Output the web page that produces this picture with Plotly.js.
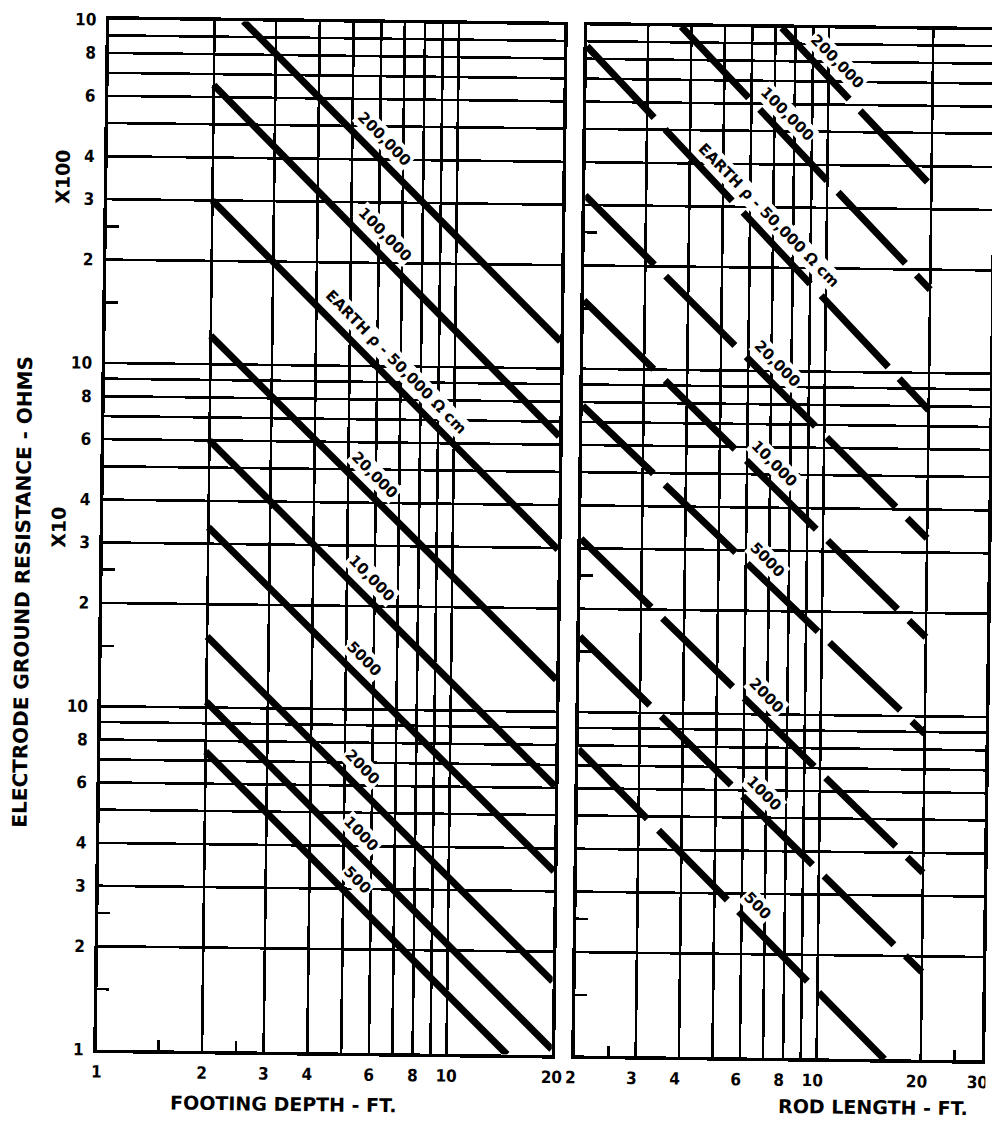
<!DOCTYPE html>
<html>
<head>
<meta charset="utf-8">
<script src="https://cdn.plot.ly/plotly-3.0.1.min.js"></script>
<style>
html,body{margin:0;padding:0;background:#fff;overflow:hidden;}
#chart{width:992px;height:1125px;transform:rotate(0.7deg);transform-origin:545px 540px;}
</style>
</head>
<body>
<div id="chart"></div>
<script>
// ---------------- data ----------------
const curveLabels = ['200,000', '100,000', 'EARTH \u03c1 - 50,000 \u03a9 cm', '20,000', '10,000', '5000', '2000', '1000', '500'];

// Footing depth panel (solid lines): start / end points of each curve
const footStartX = [2.42, 2, 2, 2, 2, 2, 2, 2, 2];
const footStartR = [1000, 650, 300, 121, 60, 33.5, 16.1, 10.4, 7.45];
const footEndX   = [20, 20, 20, 20, 20, 20, 20, 20, 14.9];
const footEndR   = [120, 63.5, 29.7, 12.4, 6.07, 3.43, 1.64, 1.04, 1];

// Rod length panel (dashed lines)
const rodStartX = [7.3, 3.74, 2, 2, 2, 2, 2, 2, 2];
const rodStartR = [1000, 1000, 870, 320, 158, 78, 32, 16.6, 7.8];
const rodEndX   = [20, 20, 20, 20, 20, 20, 20, 20, 15.7];
const rodEndR   = [350, 175, 78, 33, 17, 8.9, 3.5, 1.8, 1];

// Tick values / labels
const resTickVals = [1,2,3,4,5,6,7,8,9,10,20,30,40,50,60,70,80,90,100,200,300,400,500,600,700,800,900,1000];
const resTickText = ['1','2','3','4','','6','','8','','10','2','3','4','','6','','8','','10','2','3','4','','6','','8','','10'];
const resShortTicks = [1.5, 2.5, 15, 25, 150, 250];

const footTickVals = [1,2,3,4,5,6,7,8,9,10,20];
const footTickText = ['1','2','3','4','','6','','8','','10','20'];
const footShortTicks = [1.5, 2.5];

const rodTickVals = [2,3,4,5,6,7,8,9,10,20,30];
const rodTickText = ['2','3','4','','6','','8','','10','20','30'];
const rodShortTicks = [2.5, 25];

const scaleLabels = ['X100', 'X10'];
const scaleLabelAt = [347, 33];

// ---------------- positions / styles ----------------
const W = 992, H = 1125;
const plotTop = 25, plotBottom = 1055;
const leftX0 = 103, leftX1 = 558, rightX0 = 581, rightX1 = 988;
const footLabelX = [5.70, 5.75, 6.28, 5.49, 5.42, 5.21, 5.18, 5.18, 5.06];
const rodLabelX  = [9.77, 7.03, 6.29, 6.72, 6.64, 6.39, 6.42, 6.38, 6.14];

const FONT_C = "'DejaVu Sans Condensed', 'DejaVu Sans', sans-serif";
const FONT_W = "'DejaVu Sans', sans-serif";
const INK = '#000';

const traces = [];
curveLabels.forEach((name, i) => {
  traces.push({
    x: [footStartX[i], footEndX[i]], y: [footStartR[i], footEndR[i]],
    xaxis: 'x', yaxis: 'y', mode: 'lines', name: name, showlegend: false,
    line: {color: INK, width: 7}, hoverinfo: 'skip'
  });
  traces.push({
    x: [rodStartX[i], rodEndX[i]], y: [rodStartR[i], rodEndR[i]],
    xaxis: 'x2', yaxis: 'y2', mode: 'lines', name: name, showlegend: false,
    line: {color: INK, width: 7, dash: '98px,16px'}, hoverinfo: 'skip'
  });
});

function logInterp(x0, r0, x1, r1, x) {
  const t = (Math.log10(x) - Math.log10(x0)) / (Math.log10(x1) - Math.log10(x0));
  return Math.log10(r0) + t * (Math.log10(r1) - Math.log10(r0));
}

const labelFont = {family: FONT_W, size: 15, color: INK, weight: 'bold'};
const annotations = [];
curveLabels.forEach((name, i) => {
  annotations.push({
    xref: 'x', yref: 'y', x: Math.log10(footLabelX[i]),
    y: logInterp(footStartX[i], footStartR[i], footEndX[i], footEndR[i], footLabelX[i]),
    text: name, showarrow: false, textangle: 45, xshift: 12, yshift: 12,
    xanchor: 'center', yanchor: 'middle',
    font: labelFont, bgcolor: '#fff', borderpad: 1
  });
  annotations.push({
    xref: 'x2', yref: 'y2', x: Math.log10(rodLabelX[i]),
    y: logInterp(rodStartX[i], rodStartR[i], rodEndX[i], rodEndR[i], rodLabelX[i]),
    text: name, showarrow: false, textangle: 45, xshift: 12, yshift: 12,
    xanchor: 'center', yanchor: 'middle',
    font: labelFont, bgcolor: '#fff', borderpad: 1
  });
});
scaleLabels.forEach((t, i) => {
  annotations.push({
    xref: 'paper', yref: 'y', x: 58 / W, y: Math.log10(scaleLabelAt[i]),
    xanchor: 'center', yanchor: 'middle',
    text: t, showarrow: false, textangle: -90,
    font: {family: FONT_W, size: 19, color: INK, weight: 'bold'}
  });
});
const titleFont = {family: FONT_W, size: 19, color: INK, weight: 'bold'};
const pY = v => (plotBottom - v) / (plotBottom - plotTop);
annotations.push({xref: 'paper', yref: 'paper', x: 23 / W, y: pY(598), text: 'ELECTRODE GROUND RESISTANCE - OHMS',
  xanchor: 'center', yanchor: 'middle', showarrow: false, textangle: -90,
  font: {family: FONT_W, size: 20, color: INK, weight: 'bold'}});
annotations.push({xref: 'paper', yref: 'paper', x: 290 / W, y: pY(1107), text: 'FOOTING DEPTH - FT.',
  xanchor: 'center', yanchor: 'middle', showarrow: false, font: titleFont});
annotations.push({xref: 'paper', yref: 'paper', x: 880 / W, y: pY(1103), text: 'ROD LENGTH - FT.',
  xanchor: 'center', yanchor: 'middle', showarrow: false, font: titleFont});

const tickFont = {family: FONT_C, size: 17, color: INK, weight: 'bold'};
const gridStyle = {showgrid: true, gridcolor: INK, gridwidth: 2.6, zeroline: false,
  showline: true, linecolor: INK, linewidth: 3.5, mirror: true, ticks: '', tickfont: tickFont};

const layout = {
  width: W, height: H,
  margin: {l: 0, r: 0, t: plotTop, b: H - plotBottom, pad: 0},
  paper_bgcolor: '#fff', plot_bgcolor: '#fff',
  showlegend: false,
  xaxis: Object.assign({}, gridStyle, {
    type: 'log', range: [0, Math.log10(20)], domain: [leftX0 / W, leftX1 / W], anchor: 'y',
    tickmode: 'array', tickvals: footTickVals, ticktext: footTickText, ticklabelstandoff: 4,
    minor: {tickmode: 'array', tickvals: footShortTicks, ticks: 'inside', ticklen: 10, tickwidth: 2.6, tickcolor: INK, showgrid: false}
  }),
  xaxis2: Object.assign({}, gridStyle, {
    type: 'log', range: [Math.log10(2), Math.log10(30)], domain: [rightX0 / W, rightX1 / W], anchor: 'y2',
    tickmode: 'array', tickvals: rodTickVals, ticktext: rodTickText, ticklabelstandoff: 4,
    ticklabeloverflow: 'allow', ticklabelshift: -4,
    minor: {tickmode: 'array', tickvals: rodShortTicks, ticks: 'inside', ticklen: 10, tickwidth: 2.6, tickcolor: INK, showgrid: false}
  }),
  yaxis: Object.assign({}, gridStyle, {
    type: 'log', range: [0, 3], domain: [0, 1], anchor: 'x',
    tickmode: 'array', tickvals: resTickVals, ticktext: resTickText, ticklabelstandoff: 6,
    minor: {tickmode: 'array', tickvals: resShortTicks, ticks: 'inside', ticklen: 12, tickwidth: 2.6, tickcolor: INK, showgrid: false}
  }),
  yaxis2: Object.assign({}, gridStyle, {
    type: 'log', range: [0, 3], domain: [0, 1], anchor: 'x2', matches: 'y',
    tickmode: 'array', tickvals: resTickVals, ticktext: resTickText, showticklabels: false,
    minor: {tickmode: 'array', tickvals: resShortTicks, ticks: 'inside', ticklen: 12, tickwidth: 2.6, tickcolor: INK, showgrid: false}
  }),
  annotations: annotations
};

Plotly.newPlot('chart', traces, layout, {displayModeBar: false, staticPlot: true});
</script>
</body>
</html>
